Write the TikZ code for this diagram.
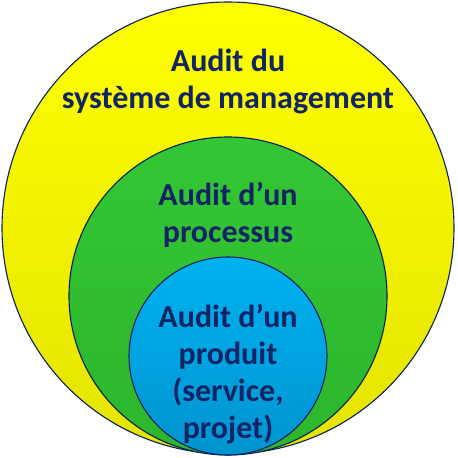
\documentclass[tikz,border=0pt]{standalone}
\usepackage{fontspec}
\setmainfont{Carlito}
\usetikzlibrary{positioning}

\definecolor{navy}{RGB}{10,32,96}
\definecolor{textnavy}{RGB}{18,36,102}
\definecolor{yellowtop}{RGB}{255,255,0}
\definecolor{yellowbot}{RGB}{228,228,0}
\definecolor{greentop}{RGB}{52,198,52}
\definecolor{greenbot}{RGB}{44,182,44}
\definecolor{bluetop}{RGB}{0,178,240}
\definecolor{bluebot}{RGB}{0,148,208}

\tikzset{
  ring/.style={circle, draw=navy, line width=1.1pt, inner sep=0pt},
  label text/.style={align=center, text=textnavy, anchor=base,
    font=\fontsize{32}{37}\selectfont\bfseries}
}

\begin{document}
\begin{tikzpicture}[x=1pt, y=-1pt]
    \useasboundingbox (0,0) rectangle (458,458);

    \node [ring, minimum size=452pt, top color=yellowtop, bottom color=yellowbot] (systeme) at (228,228) {};
    \node [ring, minimum size=318pt, top color=greentop, bottom color=greenbot] (processus) at (228,296) {};
    \node [ring, minimum size=198pt, top color=bluetop, bottom color=bluebot] (produit) at (228,356) {};

    % base anchor sits on the last line
    \node [label text] (tsysteme) at (228,108) {Audit du\\système de management};
    \node [label text] (tprocessus) at (228,242) {Audit d’un\\processus};
    \node [label text] (tproduit) at (228,438) {Audit d’un\\produit\\(service,\\projet)};
\end{tikzpicture}
\end{document}
